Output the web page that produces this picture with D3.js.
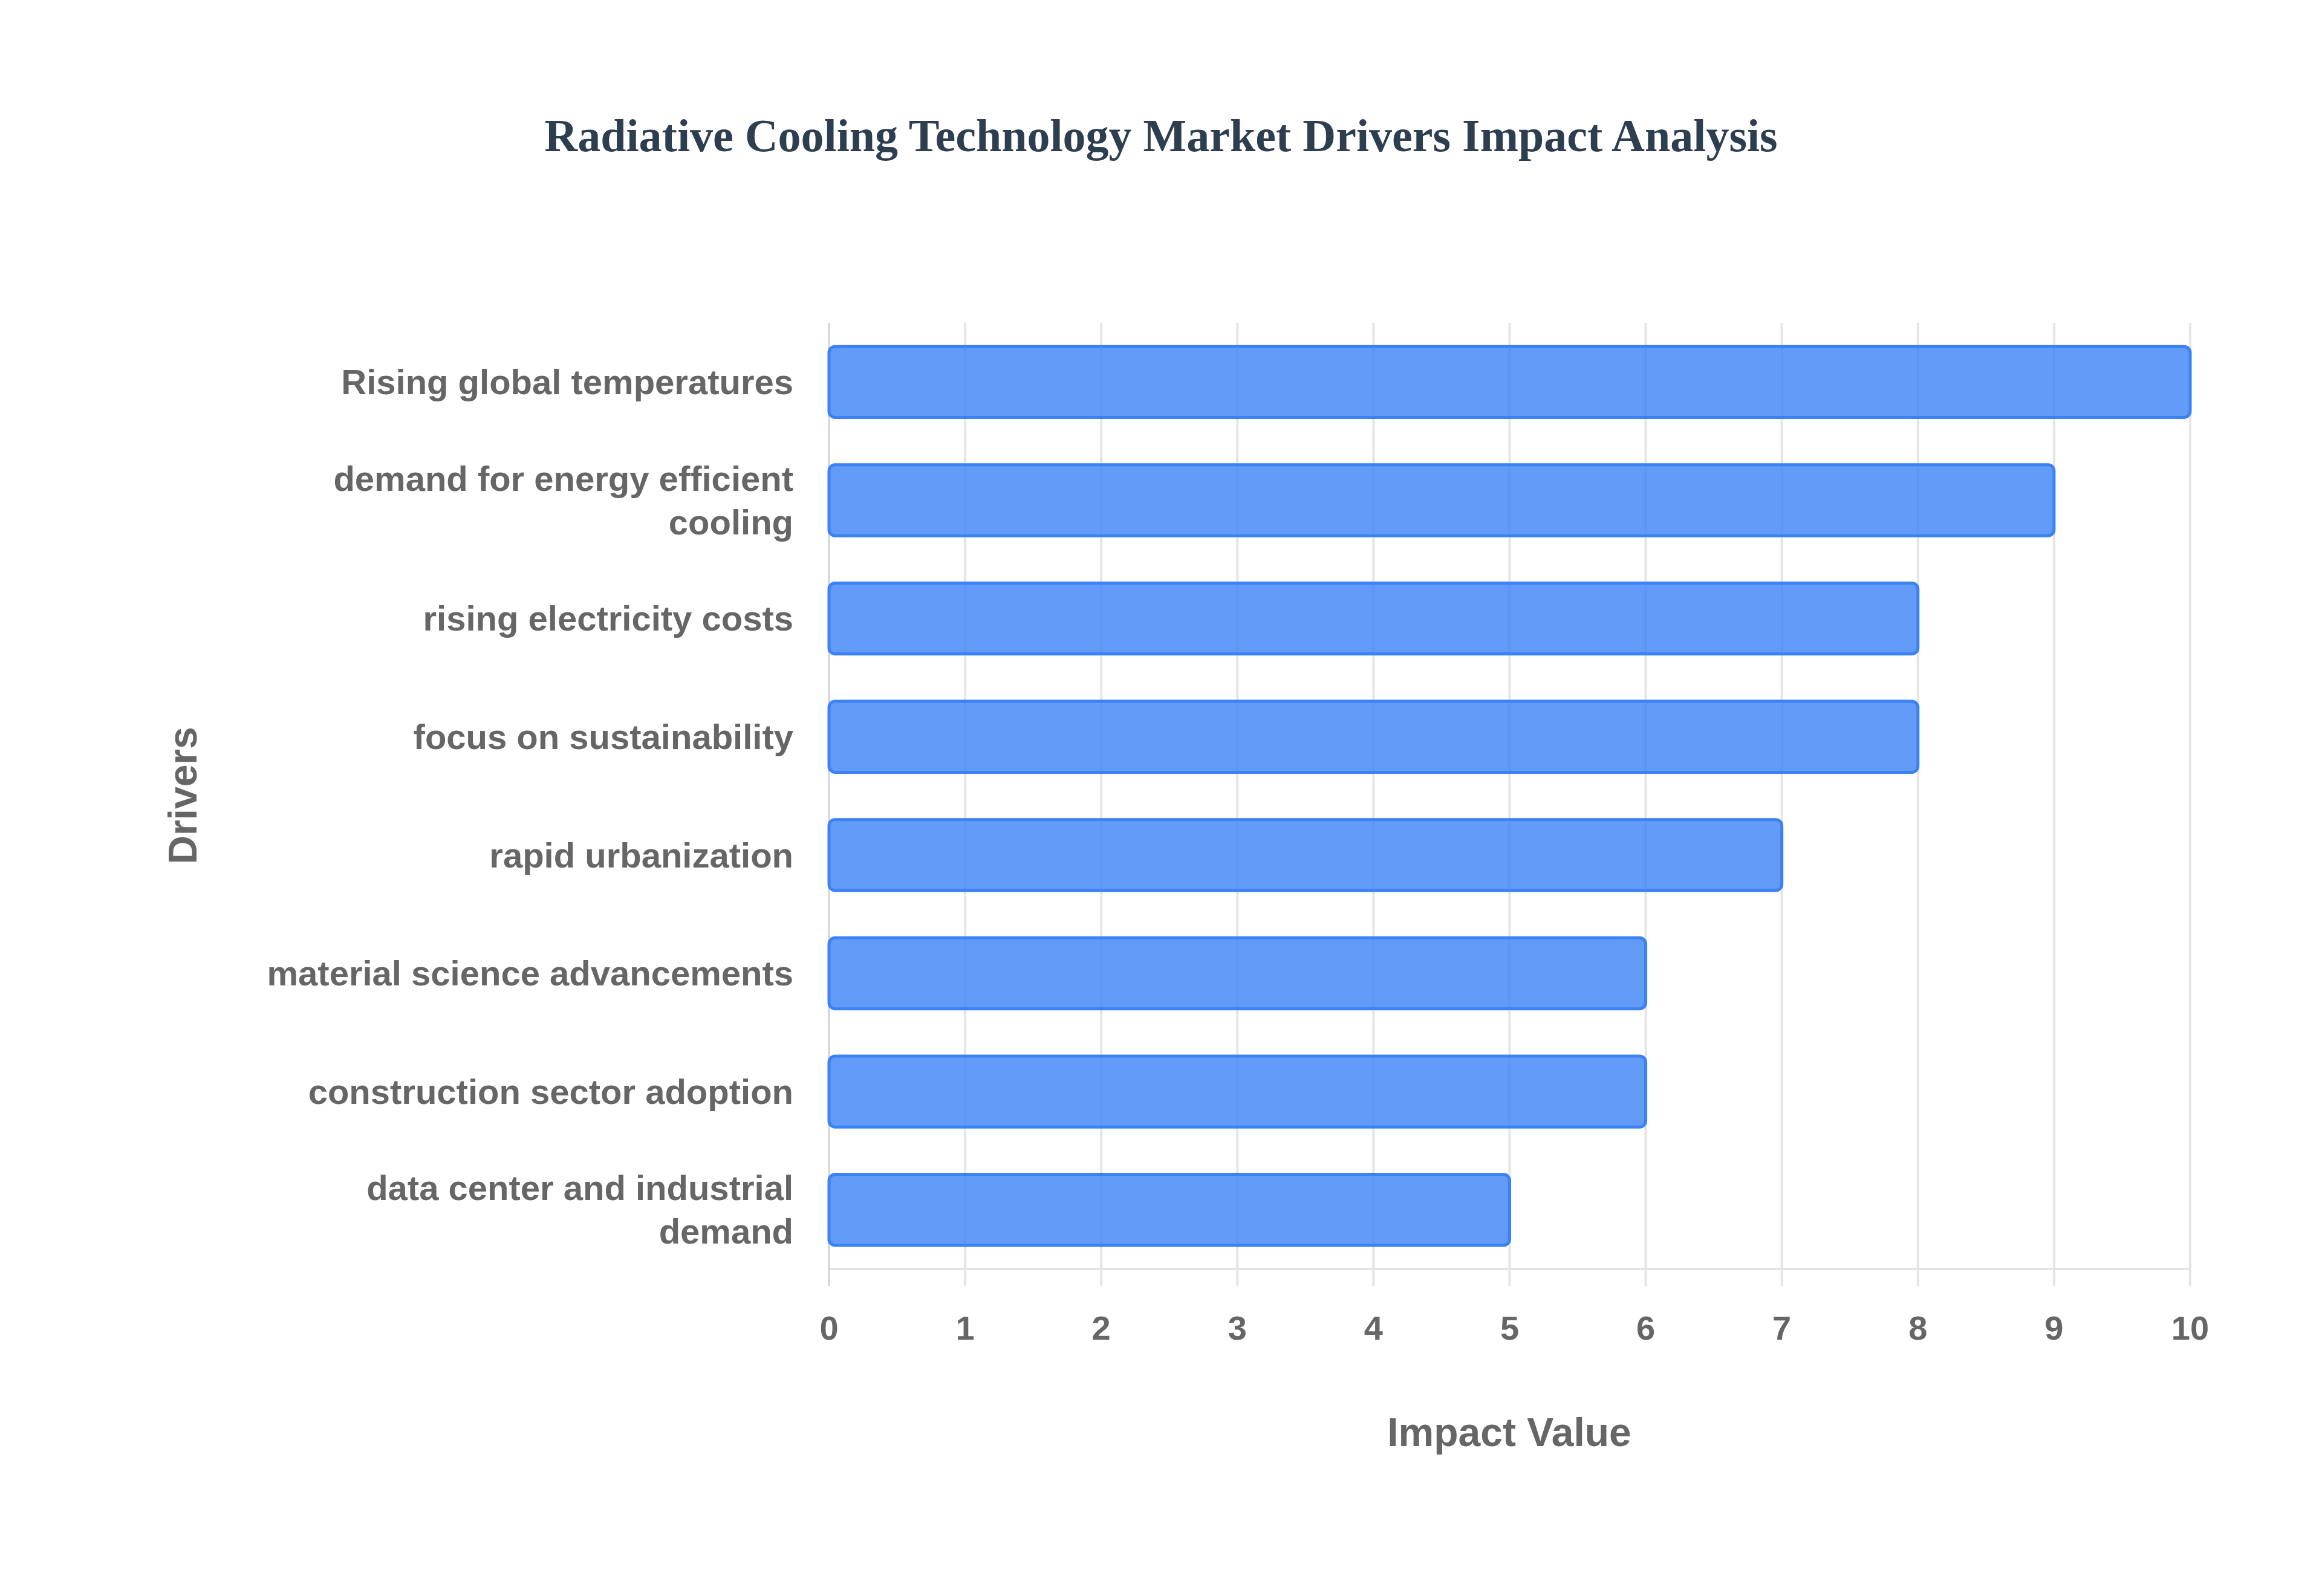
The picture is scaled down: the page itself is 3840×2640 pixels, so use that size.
<!DOCTYPE html>
<html><head><meta charset="utf-8">
<script src="https://cdn.jsdelivr.net/npm/d3@7"></script>
<style>body{margin:0;background:#fff}</style></head>
<body><svg id="c" width="3840" height="2640"></svg>
<script>
const categories = ["Rising global temperatures","demand for energy efficient cooling","rising electricity costs","focus on sustainability","rapid urbanization","material science advancements","construction sector adoption","data center and industrial demand"];
const labelLines = [["Rising global temperatures"],["demand for energy efficient","cooling"],["rising electricity costs"],["focus on sustainability"],["rapid urbanization"],["material science advancements"],["construction sector adoption"],["data center and industrial","demand"]];
const values = [10,9,8,8,7,6,6,5];
const xTicks = [0,1,2,3,4,5,6,7,8,9,10];

const svg = d3.select("#c");
const L=1371, R=3622, T=534, B=2099;
const x = d3.scaleLinear().domain([0,10]).range([L,R]);
const y = d3.scaleBand().domain(categories).range([T,B]).paddingInner(0.4).paddingOuter(0.2);
const sans = "'Liberation Sans', Arial, sans-serif";

svg.append("text").attr("x",1920).attr("y",250).attr("text-anchor","middle")
  .attr("font-family","'Liberation Serif', 'Times New Roman', serif").attr("font-weight","bold")
  .attr("font-size",76).attr("fill","#2c3e50").text("Radiative Cooling Technology Market Drivers Impact Analysis");

// grid
svg.append("g").selectAll("line").data(xTicks).join("line")
  .attr("x1",d=>x(d)).attr("x2",d=>x(d)).attr("y1",T).attr("y2",B+28)
  .attr("stroke","#e5e5e5").attr("stroke-width",4);
svg.append("line").attr("x1",L).attr("x2",R).attr("y1",B).attr("y2",B).attr("stroke","#e5e5e5").attr("stroke-width",4);
svg.append("line").attr("x1",L).attr("x2",L).attr("y1",T).attr("y2",B+28).attr("stroke","#d8d8d8").attr("stroke-width",4);

// bars
svg.append("g").selectAll("rect").data(values).join("rect")
  .attr("x",x(0)).attr("y",(d,i)=>y(categories[i]))
  .attr("width",d=>x(d)-x(0)).attr("height",y.bandwidth())
  .attr("rx",10).attr("fill","rgba(59,130,246,0.8)").attr("stroke","#3b82f6").attr("stroke-width",5);

// y labels
const yl = svg.append("g");
labelLines.forEach((lines,i)=>{
  const cy = y(categories[i]) + y.bandwidth()/2;
  const lh = 72, start = cy - (lines.length-1)*lh/2;
  const t = yl.append("text").attr("text-anchor","end").attr("font-family",sans).attr("font-weight","bold")
    .attr("font-size",58).attr("fill","#666");
  lines.forEach((ln,j)=>t.append("tspan").attr("x",1312).attr("y",start+j*lh).attr("dy","0.35em").text(ln));
});

// x tick labels
svg.append("g").selectAll("text").data(xTicks).join("text")
  .attr("x",d=>x(d)).attr("y",2216).attr("text-anchor","middle")
  .attr("font-family",sans).attr("font-weight","bold").attr("font-size",56).attr("fill","#666").text(d=>d);

svg.append("text").attr("x",2496).attr("y",2392).attr("text-anchor","middle")
  .attr("font-family",sans).attr("font-weight","bold").attr("font-size",66).attr("fill","#666").text("Impact Value");
svg.append("text").attr("transform","translate(325,1316) rotate(-90)").attr("text-anchor","middle")
  .attr("font-family",sans).attr("font-weight","bold").attr("font-size",66).attr("fill","#666").text("Drivers");
</script></body></html>
